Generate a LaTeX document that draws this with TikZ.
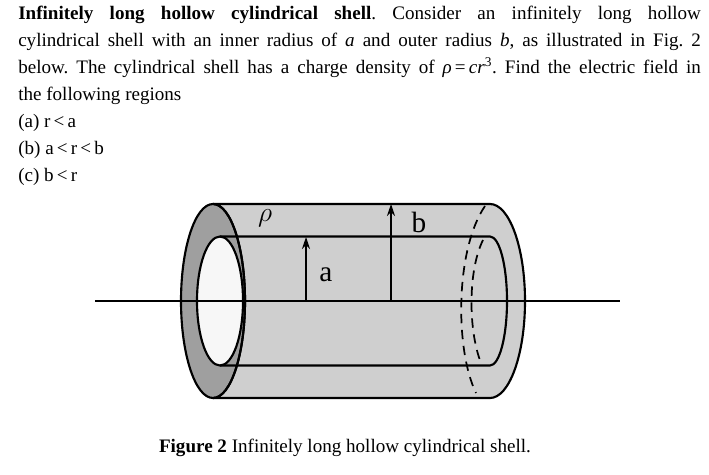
\documentclass[tikz,border=0pt]{standalone}
\usepackage{fontspec}
\setmainfont{Liberation Serif}
\usetikzlibrary{arrows.meta}
\frenchspacing
\begin{document}
\begin{tikzpicture}[x=0.75pt,y=-0.75pt,
  edge/.style={line width=1.6pt},
  radarrow/.style={line width=1.3pt, -{Stealth[length=9pt,width=6pt]}},
  lbl/.style={font=\fontsize{22}{24}\selectfont, inner sep=0pt}]
\useasboundingbox (0,0) rectangle (709,474);
\node[anchor=north west, text width=512pt, align=justify, inner sep=0pt, font=\fontsize{14.3}{20.25}\selectfont] (txt) at (18,6)
{\textbf{Infinitely long hollow cylindrical shell}. Consider an infinitely long hollow\linebreak
cylindrical shell with an inner radius of \textit{a} and outer radius \textit{b}, as illustrated in Fig.~2\linebreak
below. The cylindrical shell has a charge density of \textit{ρ}\,=\,\textit{cr}\textsuperscript{3}. Find the electric field in\linebreak
the following regions\par
(a) r\,<\,a\par (b) a\,<\,r\,<\,b\par (c) b\,<\,r};
\coordinate (axL) at (95,301);
\coordinate (axR) at (620,301);
% body
\fill[gray!38] (213,204) -- (490,204) arc[start angle=-90,end angle=90,x radius=35,y radius=97] -- (213,398) -- cycle;
\draw[edge] (213,204) -- (490,204) arc[start angle=-90,end angle=90,x radius=35,y radius=97] -- (213,398);
% left annulus
\fill[gray!75, draw=black, line width=1.6pt] (213,301) ellipse[x radius=32, y radius=97];
\fill[white!94!gray] (220,301) ellipse[x radius=23, y radius=64.5];
% inner tube
\draw[edge] (220,236.5) -- (490,236.5) arc[start angle=-90,end angle=90,x radius=17,y radius=64.5] -- (220,365.5);
\draw[edge] (220,301) ellipse[x radius=23, y radius=64.5];
\draw[edge] (213,204) arc[start angle=-90,end angle=90,x radius=32,y radius=97];
% dashed
\draw[line width=1.3pt, dash pattern=on 7pt off 5pt] (485,206) .. controls (455,250) and (455,350) .. (476,393);
\draw[line width=1.3pt, dash pattern=on 7pt off 5pt] (483,240) .. controls (468,270) and (468,330) .. (481,363);
% axis
\draw[line width=1.3pt] (axL) -- (axR);
% arrows
\coordinate (aB) at (306,301); \coordinate (aT) at (306,237);
\coordinate (bB) at (391,301); \coordinate (bT) at (391,204);
\draw[radarrow] (aB) -- (aT);
\draw[radarrow] (bB) -- (bT);
\node[lbl] (la) at (326,275) {a};
\node[lbl] (lb) at (419,222) {b};
\node[lbl] (lr) at (265,218) {$\rho$};
\node[font=\fontsize{14.3}{17}\selectfont, inner sep=0pt] (cap) at (345,448) {\textbf{Figure 2} Infinitely long hollow cylindrical shell.};
\end{tikzpicture}
\end{document}
